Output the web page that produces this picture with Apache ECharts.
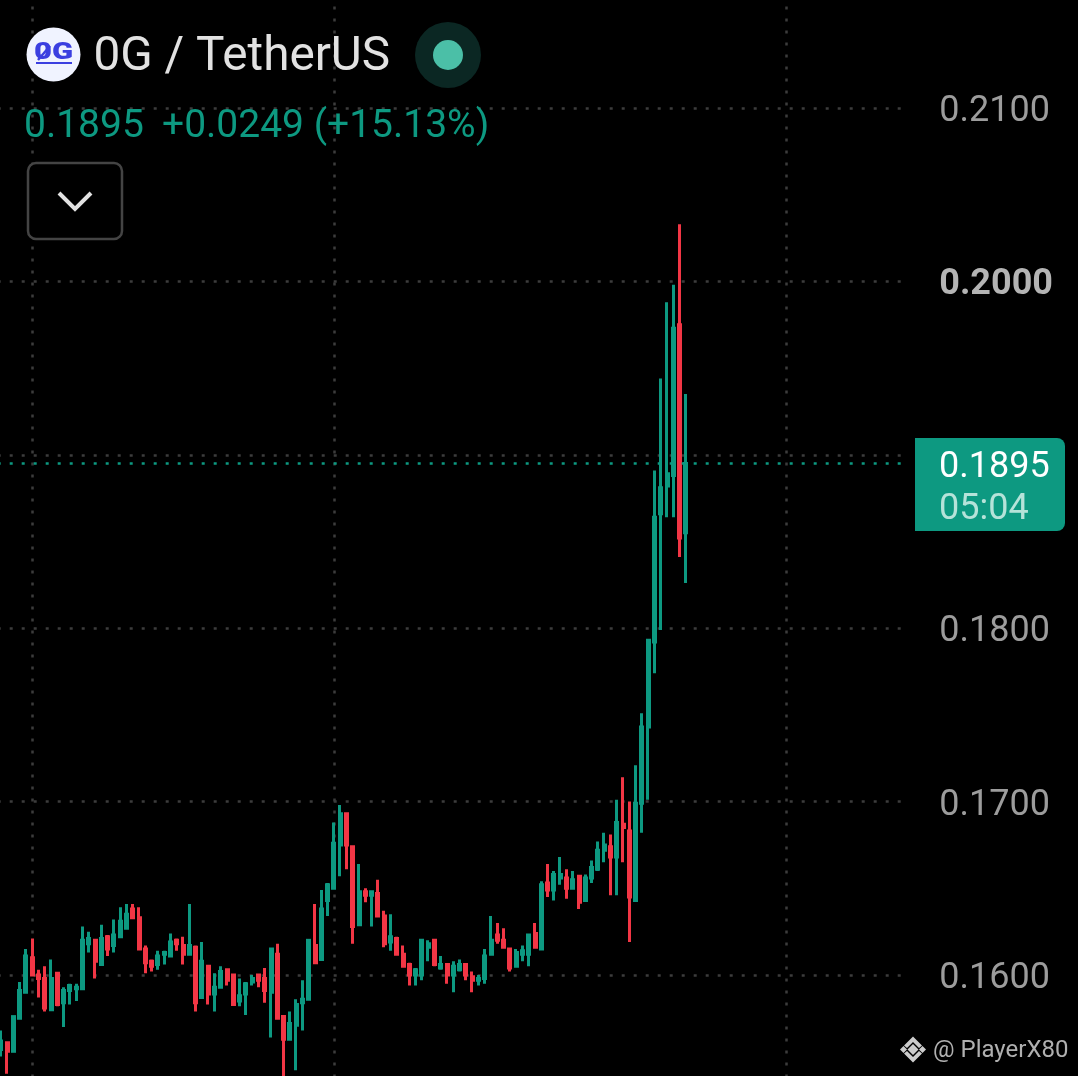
<!DOCTYPE html>
<html><head><meta charset="utf-8">
<script src="https://cdn.jsdelivr.net/npm/echarts@6/dist/echarts.min.js"></script>
<style>html,body{margin:0;padding:0;background:#000;overflow:hidden}#c{width:1078px;height:1076px}</style>
</head><body><div id="c"></div>
<script>
const opens=[.1557,.1561,.1556,.1575,.1590,.1610,.1600,.1598,.1580,.1601,.1584,.1591,.1592,.1592,.1618,.1620,.1606,.1622,.1617,.1622,.1627,.1638,.1633,.1615,.1608,.1606,.1612,.1611,.1620,.1617,.1612,.1616,.1587,.1605,.1589,.1593,.1603,.1600,.1585,.1589,.1596,.1600,.1598,.1590,.1612,.1576,.1563,.1571,.1584,.1586,.1617,.1609,.1643,.1650,.1675,.1693,.1674,.1629,.1648,.1646,.1647,.1634,.1619,.1621,.1612,.1606,.1600,.1600,.1616,.1620,.1604,.1606,.1600,.1603,.1606,.1599,.1597,.1598,.1612,.1623,.1620,.1615,.1605,.1612,.1612,.1624,.1615,.1653,.1649,.1656,.1656,.1650,.1657,.1643,.1656,.1661,.1672,.1674,.1668,.1687,.1683,.1643,.1699,.1743,.1792,.1866,.1882,.1888,.1975,.1855];
const closes=[.1562,.1556,.1576,.1591,.1611,.1600,.1598,.1581,.1598,.1583,.1591,.1594,.1593,.1620,.1621,.1608,.1621,.1615,.1623,.1631,.1635,.1633,.1615,.1607,.1605,.1611,.1613,.1619,.1618,.1612,.1617,.1584,.1608,.1589,.1593,.1602,.1597,.1583,.1588,.1595,.1598,.1597,.1591,.1615,.1575,.1563,.1572,.1583,.1586,.1620,.1607,.1638,.1652,.1676,.1693,.1675,.1628,.1648,.1646,.1648,.1634,.1618,.1622,.1612,.1605,.1600,.1603,.1620,.1618,.1606,.1606,.1600,.1605,.1606,.1600,.1597,.1598,.1611,.1620,.1620,.1616,.1604,.1613,.1614,.1623,.1616,.1652,.1649,.1658,.1658,.1650,.1655,.1642,.1656,.1662,.1672,.1675,.1668,.1688,.1685,.1645,.1699,.1743,.1793,.1864,.1881,.1889,.1973,.1852,.1895];
const lows=[.1553,.1543,.1556,.1575,.1590,.1600,.1587,.1579,.1580,.1582,.1570,.1583,.1585,.1592,.1613,.1598,.1606,.1611,.1613,.1622,.1627,.1633,.1615,.1601,.1602,.1603,.1606,.1611,.1614,.1606,.1612,.1579,.1587,.1583,.1579,.1593,.1594,.1583,.1582,.1577,.1594,.1593,.1584,.1564,.1575,.1541,.1563,.1545,.1568,.1586,.1607,.1609,.1634,.1650,.1657,.1661,.1618,.1629,.1642,.1628,.1634,.1616,.1614,.1612,.1605,.1594,.1594,.1597,.1608,.1605,.1603,.1595,.1590,.1602,.1597,.1590,.1594,.1595,.1612,.1618,.1616,.1602,.1605,.1608,.1605,.1616,.1615,.1645,.1643,.1652,.1644,.1650,.1638,.1643,.1653,.1660,.1665,.1646,.1646,.1665,.1619,.1643,.1682,.1701,.1774,.1799,.1864,.1864,.1841,.1826];
const highs=[.1568,.1561,.1576,.1596,.1615,.1621,.1603,.1605,.1609,.1601,.1593,.1595,.1595,.1628,.1625,.1620,.1629,.1623,.1632,.1639,.1641,.1641,.1639,.1617,.1609,.1614,.1614,.1624,.1621,.1622,.1641,.1617,.1619,.1605,.1601,.1605,.1603,.1600,.1598,.1596,.1600,.1600,.1604,.1615,.1618,.1576,.1579,.1586,.1597,.1620,.1641,.1649,.1653,.1688,.1698,.1693,.1674,.1664,.1650,.1648,.1655,.1637,.1635,.1622,.1617,.1607,.1604,.1620,.1620,.1620,.1611,.1606,.1608,.1609,.1606,.1602,.1600,.1615,.1634,.1630,.1627,.1615,.1615,.1617,.1624,.1630,.1654,.1664,.1660,.1668,.1661,.1660,.1657,.1658,.1666,.1677,.1682,.1681,.1701,.1714,.1700,.1721,.1751,.1793,.1891,.1944,.1988,.1998,.2033,.1935];
const lastPrice=0.1895;
const verticalGridBars=[5,53,125];
const slotCount=144;
const slotLabels=Array.from({length:slotCount},(_,i)=>'bar'+i);
const UP='#0d9981',DOWN='#f23645';
const candles=opens.map((o,i)=>[o,closes[i],lows[i],highs[i]]);

const chart=echarts.init(document.getElementById('c'),null,{renderer:'canvas'});
const gridLine={color:'#3c3c3c',width:2.5,type:[3,9]};
const F='Roboto';
chart.setOption({
  animation:false,
  backgroundColor:'#000',
  grid:{left:-2.3,top:-65.4,width:905.04,height:1213.8,outerBoundsMode:'none',containLabel:false},
  xAxis:{type:'category',data:slotLabels,boundaryGap:true,
    axisLine:{show:false},axisTick:{show:false},axisLabel:{show:false},
    splitLine:{show:true,alignWithLabel:true,lineStyle:gridLine,
      interval:(i)=>verticalGridBars.includes(i)}},
  yAxis:{type:'value',position:'right',min:0.15,max:0.22,interval:0.01,scale:true,
    axisLine:{show:false},axisTick:{show:false},
    splitLine:{show:true,lineStyle:gridLine},
    axisLabel:{margin:36.5,color:'#9c9c9c',fontFamily:F,fontSize:36,padding:[8,0,0,0],
      formatter:(v)=>{const s=v.toFixed(4);
        if(s==='0.1900')return '';
        return s==='0.2000'?'{b|'+s+'}':s;},
      rich:{b:{color:'#b4b4b4',fontFamily:F,fontSize:36,fontWeight:'bold'}}}},
  series:[{type:'candlestick',data:candles,barWidth:2.5,
    itemStyle:{color:UP,color0:DOWN,borderColor:UP,borderColor0:DOWN,borderWidth:3},
    markLine:{silent:true,symbol:'none',animation:false,precision:4,
      label:{show:false},
      lineStyle:{color:UP,width:2.5,type:[3,9]},
      data:[{yAxis:lastPrice}]}}],
  graphic:[
    {type:'circle',shape:{cx:53.5,cy:54.5,r:27},style:{fill:'#f0f3ff'},z:10},
    {type:'text',x:53.5,y:53,z:11,scaleX:1.35,style:{text:'0G',fill:'#3b3fe0',font:'900 23px '+F,textAlign:'center',textVerticalAlign:'middle'}},
    {type:'line',shape:{x1:38,y1:60,x2:50,y2:46},style:{stroke:'#3b3fe0',lineWidth:2.5},z:12},
    {type:'rect',shape:{x:36,y:62,width:36,height:2},style:{fill:'#3b3fe0'},z:11},
    {type:'text',x:93.5,y:58,z:10,style:{text:'0G / TetherUS',fill:'#e2e2e2',font:'400 47.7px '+F,textVerticalAlign:'middle'}},
    {type:'circle',shape:{cx:448,cy:55,r:33},style:{fill:'#0b2723'},z:10},
    {type:'circle',shape:{cx:448,cy:55,r:15},style:{fill:'#4bbfa7'},z:11},
    {type:'text',x:24,y:127,z:10,style:{text:'0.1895',fill:UP,font:'400 39px '+F,textVerticalAlign:'middle'}},
    {type:'text',x:162,y:127,z:10,style:{text:'+0.0249 (+15.13%)',fill:UP,font:'400 39px '+F,textVerticalAlign:'middle'}},
    {type:'rect',shape:{x:28,y:163,width:94,height:76,r:8},style:{fill:'#000',stroke:'#444',lineWidth:2.5},z:10},
    {type:'polyline',shape:{points:[[59,193],[75,209],[91,193]]},style:{stroke:'#e2e2e2',lineWidth:4,fill:null},z:11},
    {type:'rect',shape:{x:915,y:438,width:150,height:93,r:[0,8,8,0]},style:{fill:UP},z:10},
    {type:'text',x:939,y:468,z:11,style:{text:'0.1895',fill:'#fff',font:'400 36px '+F,textVerticalAlign:'middle'}},
    {type:'text',x:939,y:510,z:11,style:{text:'05:04',fill:'#b5e3d9',font:'400 36px '+F,textVerticalAlign:'middle'}},
    {type:'polygon',shape:{points:[[913,1044],[918.5,1049.5],[913,1055],[907.5,1049.5]]},style:{fill:'#cccccc'},z:11},
    {type:'polygon',shape:{points:[[903.5,1046],[907,1049.5],[903.5,1053],[900,1049.5]]},style:{fill:'#cccccc'},z:11},
    {type:'polygon',shape:{points:[[922.5,1046],[926,1049.5],[922.5,1053],[919,1049.5]]},style:{fill:'#cccccc'},z:11},
    {type:'polygon',shape:{points:[[913,1036.5],[922,1045.5],[919,1048],[913,1042],[907,1048],[904,1045.5]]},style:{fill:'#cccccc'},z:11},
    {type:'polygon',shape:{points:[[913,1062.5],[922,1053.5],[919,1051],[913,1057],[907,1051],[904,1053.5]]},style:{fill:'#cccccc'},z:11},
    {type:'text',x:933,y:1051,z:11,style:{text:'@ PlayerX80',fill:'#b0b0b0',font:'400 24px '+F,textVerticalAlign:'middle'}}
  ]
});
</script></body></html>
